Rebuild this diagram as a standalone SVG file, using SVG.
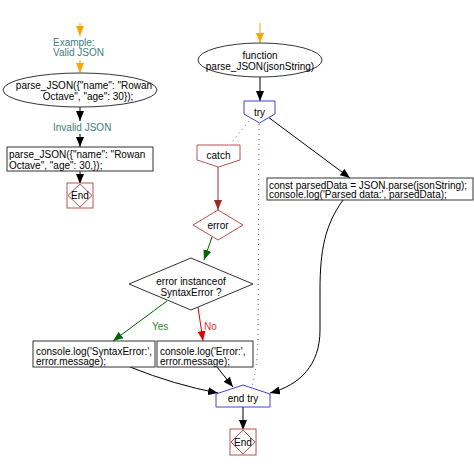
<svg xmlns="http://www.w3.org/2000/svg" width="474" height="467" viewBox="0 0 474 467">
<style>
text{font-family:"Liberation Sans",Arial,sans-serif;font-size:10px;fill:#000}
.c{text-anchor:middle}
.lbl{fill:#408080}
.box{fill:#fff;stroke:#333;stroke-width:1}
.blue{fill:#fff;stroke:#4040d8;stroke-width:1}
.red{fill:#fff;stroke:#b85050;stroke-width:1}
.k{stroke:#000;fill:none;stroke-width:1}
.o{stroke:#ffa500;fill:none;stroke-width:1}
</style>
<defs>
<marker id="ak" markerUnits="userSpaceOnUse" markerWidth="11" markerHeight="8" refX="10" refY="4" orient="auto"><path d="M0,0 L10,4 L0,8 z" fill="#000"/></marker>
<marker id="ao" markerUnits="userSpaceOnUse" markerWidth="11" markerHeight="8" refX="10" refY="4" orient="auto"><path d="M0,0 L10,4 L0,8 z" fill="#ffa500"/></marker>
<marker id="ag" markerUnits="userSpaceOnUse" markerWidth="11" markerHeight="8" refX="10" refY="4" orient="auto"><path d="M0,0 L10,4 L0,8 z" fill="#006400"/></marker>
<marker id="ar" markerUnits="userSpaceOnUse" markerWidth="11" markerHeight="8" refX="10" refY="4" orient="auto"><path d="M0,0 L10,4 L0,8 z" fill="#e00000"/></marker>
<marker id="ad" markerUnits="userSpaceOnUse" markerWidth="11" markerHeight="8" refX="10" refY="4" orient="auto"><path d="M0,0 L10,4 L0,8 z" fill="#a02828"/></marker>
</defs>
<g id="connectors">
<line class="o" x1="80" y1="23" x2="80" y2="36" marker-end="url(#ao)"/>
<line class="o" x1="80" y1="60" x2="80" y2="73" marker-end="url(#ao)"/>
<line class="k" x1="80" y1="107" x2="80" y2="121" marker-end="url(#ak)"/>
<line class="k" x1="80" y1="134" x2="80" y2="147" marker-end="url(#ak)"/>
<line class="k" x1="80" y1="171" x2="80" y2="184" marker-end="url(#ak)"/>
<line class="o" x1="260" y1="23" x2="260" y2="43" marker-end="url(#ao)"/>
<line class="k" x1="260" y1="77" x2="260" y2="101" marker-end="url(#ak)"/>
<line x1="249" y1="121" x2="232" y2="142" stroke="#4040d8" stroke-dasharray="1,4" fill="none"/>
<path d="M259,124 L258,340 Q257,370 252,386" stroke="#4040d8" stroke-dasharray="1,4" fill="none"/>
<line class="k" x1="268" y1="117" x2="350" y2="178" marker-end="url(#ak)"/>
<line x1="218" y1="167" x2="218" y2="210" stroke="#a02828" fill="none" marker-end="url(#ad)"/>
<line x1="212" y1="237" x2="204" y2="260" stroke="#006400" fill="none" marker-end="url(#ag)"/>
<line x1="167" y1="301" x2="113" y2="341" stroke="#006400" fill="none" marker-end="url(#ag)"/>
<line x1="198" y1="307" x2="203" y2="341" stroke="#e00000" fill="none" marker-end="url(#ar)"/>
<path class="k" d="M130,367 Q175,385 218,393" marker-end="url(#ak)"/>
<line class="k" x1="217" y1="367" x2="233" y2="387" marker-end="url(#ak)"/>
<path class="k" d="M343,200 C325,225 320,250 320,290 L320,330 C320,365 300,385 270,393" marker-end="url(#ak)"/>
<line class="k" x1="243" y1="407" x2="243" y2="430" marker-end="url(#ak)"/>
<text x="152" y="329.5" fill="#408040" style="fill:#408040">Yes</text>
<text x="204" y="329.5" style="fill:#e03030">No</text>
</g>
<g id="label-valid">
<text class="lbl" x="53" y="46">Example:</text>
<text class="lbl" x="53" y="56">Valid JSON</text>
</g>
<g id="call-valid">
<ellipse class="box" cx="80" cy="90" rx="77" ry="17"/>
<text class="c" x="84" y="89">parse_JSON({"name": "Rowan</text>
<text class="c" x="88" y="100">Octave", "age": 30});</text>
</g>
<g id="label-invalid">
<text class="lbl" x="53" y="130.5">Invalid JSON</text>
</g>
<g id="call-invalid">
<rect class="box" x="7" y="147" width="146" height="24"/>
<text x="9" y="157.5">parse_JSON({"name": "Rowan</text>
<text x="9" y="168.5">Octave", "age": 30,});</text>
</g>
<g id="end1">
<rect class="red" x="67" y="183" width="26" height="25"/>
<polygon class="red" points="80,184 92,195.5 80,207 68,195.5"/>
<text class="c" x="80" y="199">End</text>
</g>
<g id="func">
<ellipse class="box" cx="260" cy="60" rx="62" ry="17"/>
<text class="c" x="260" y="58.5">function</text>
<text class="c" x="260" y="70">parse_JSON(jsonString)</text>
</g>
<g id="try">
<polygon class="blue" points="244,101 275,101 275,114 259.5,123 244,114"/>
<text class="c" x="259.5" y="115.5">try</text>
</g>
<g id="catch">
<polygon class="red" points="197,145 240,145 240,160 218.5,167 197,160"/>
<text class="c" x="218.5" y="158.5">catch</text>
</g>
<g id="error">
<polygon class="red" points="193,225 218,210 243,225 218,240"/>
<text class="c" x="218" y="228.5">error</text>
</g>
<g id="instanceof">
<polygon class="box" points="129,284 191,258 253,284 191,310"/>
<text class="c" x="191" y="284.5">error instanceof</text>
<text class="c" x="191" y="295.5">SyntaxError ?</text>
</g>
<g id="parsed">
<rect class="box" x="267" y="178" width="206" height="22"/>
<text x="269" y="188.5">const parsedData = JSON.parse(jsonString);</text>
<text x="269" y="198">console.log('Parsed data:', parsedData);</text>
</g>
<g id="log-syntax">
<rect class="box" x="33" y="341" width="122" height="26"/>
<text x="36" y="355">console.log('SyntaxError:',</text>
<text x="36" y="365">error.message);</text>
</g>
<g id="log-error">
<rect class="box" x="157" y="341" width="96" height="26"/>
<text x="160" y="355">console.log('Error:',</text>
<text x="160" y="365">error.message);</text>
</g>
<g id="endtry">
<polygon class="blue" points="216,394 243,385 270,394 270,407 216,407"/>
<text class="c" x="243" y="401.5">end try</text>
</g>
<g id="end2">
<rect class="red" x="230" y="429" width="26" height="26"/>
<polygon class="red" points="243,430 255,442 243,454 231,442"/>
<text class="c" x="243" y="446">End</text>
</g>
</svg>
